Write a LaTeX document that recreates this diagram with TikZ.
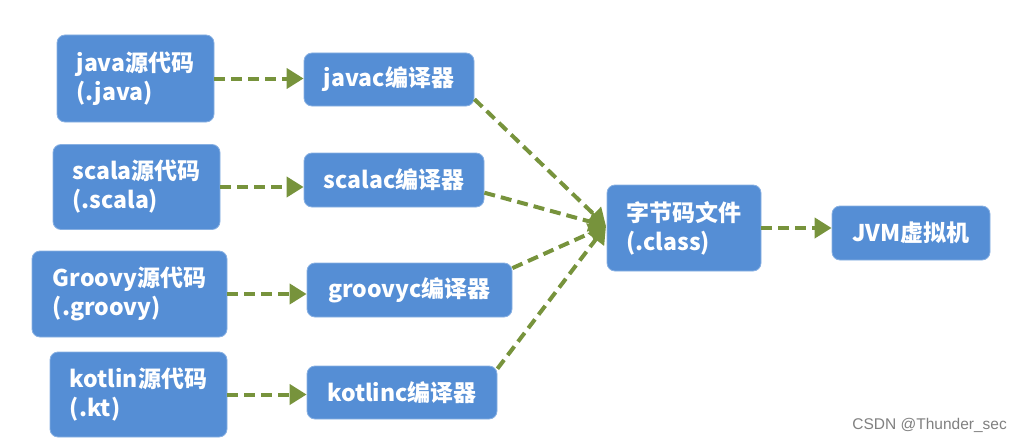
\documentclass[tikz,border=0pt]{standalone}
\usepackage{fontspec}
\newfontfamily\cjk{Noto Sans CJK SC}
\newfontfamily\wmfont{Liberation Sans}
\usetikzlibrary{arrows.meta,calc}
\definecolor{boxblue}{HTML}{558ED5}
\definecolor{arrgreen}{HTML}{77933C}
\tikzset{
  box/.style={draw=boxblue!70!white, line width=0.8pt, fill=boxblue, rounded corners=8pt,
    text=white, font=\cjk\bfseries\fontsize{23}{29}\selectfont, align=left, inner sep=0pt},
  flow/.style={draw=arrgreen, line width=4pt, dash pattern=on 11pt off 6pt,
    -{Triangle[length=17pt,width=20pt]}}
}
\begin{document}
\begin{tikzpicture}[x=1pt,y=-1pt]
\useasboundingbox (0,0) rectangle (1022,444);
% sources
\node[box, minimum width=157pt, minimum height=87pt] (java) at (135.5,78.5) {java源代码\\(.java)};
\node[box, minimum width=167pt, minimum height=85pt] (scala) at (136.5,187) {scala源代码\\(.scala)};
\node[box, minimum width=195pt, minimum height=86pt] (groovy) at (129.5,294) {Groovy源代码\\(.groovy)};
\node[box, minimum width=177pt, minimum height=85pt] (kotlin) at (138.5,394.5) {kotlin源代码\\(.kt)};
% compilers
\node[box, minimum width=170pt, minimum height=53pt] (javac) at (389,79.5) {javac编译器};
\node[box, minimum width=180pt, minimum height=54pt] (scalac) at (394,180) {scalac编译器};
\node[box, minimum width=205pt, minimum height=54pt] (groovyc) at (409.5,290) {groovyc编译器};
\node[box, minimum width=190pt, minimum height=53pt] (kotlinc) at (402,392.5) {kotlinc编译器};
% class and JVM
\node[box, minimum width=154pt, minimum height=86pt] (class) at (684,228) {字节码文件\\(.class)};
\node[box, minimum width=158pt, minimum height=54pt] (jvm) at (911,233) {JVM虚拟机};
\coordinate (tip) at (606,226);
% arrows
\draw[flow] (java.east) -- (java.east -| javac.west);
\draw[flow] (scala.east) -- (scala.east -| scalac.west);
\draw[flow] (groovy.east) -- (groovy.east -| groovyc.west);
\draw[flow] (kotlin.east) -- (kotlin.east -| kotlinc.west);
\draw[flow] (javac.-13) -- (tip);
\draw[flow] (scalac.-8) -- (tip);
\draw[flow] (groovyc.12) -- (tip);
\draw[flow] (kotlinc.14) -- (tip);
\draw[flow] (class.east) -- (class.east -| jvm.west);
% watermark
\node[anchor=east, text=black!50, font=\wmfont\fontsize{15.5}{18}\selectfont, inner sep=0pt] (wm) at (1007,425) {CSDN @Thunder\_sec};
\end{tikzpicture}
\end{document}
